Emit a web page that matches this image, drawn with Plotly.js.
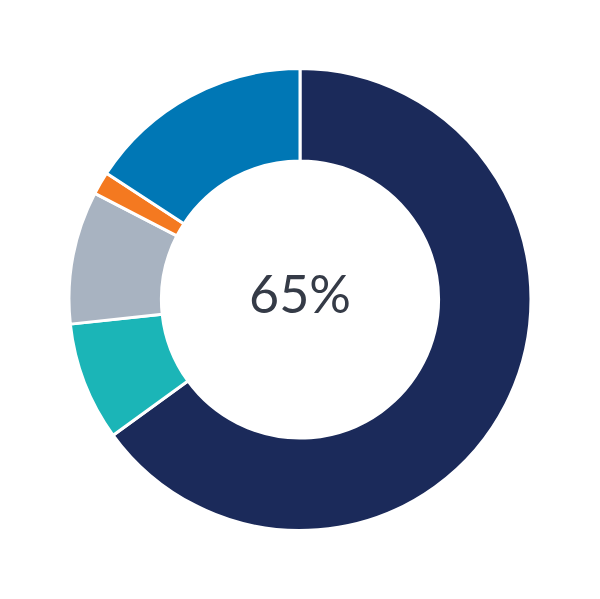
<!DOCTYPE html>
<html>
<head>
<meta charset="utf-8">
<script src="https://cdn.plot.ly/plotly-3.0.1.min.js"></script>
<style>html,body{margin:0;padding:0;background:#fff;}#chart{width:600px;height:599px;}</style>
</head>
<body>
<div id="chart"></div>
<script>
var categories = ["Navy", "Teal", "Gray", "Orange", "Blue"];
var values = [65, 8.3, 9.3, 1.6, 15.8];
var colors = ["#1b2a5a", "#1bb5b7", "#a8b3c1", "#f47920", "#0077b5"];
var centerLabel = "65%";

Plotly.newPlot("chart", [{
  type: "pie",
  labels: categories,
  values: values,
  hole: 0.6,
  sort: false,
  direction: "clockwise",
  rotation: 0,
  textinfo: "none",
  hoverinfo: "none",
  marker: {colors: colors, line: {color: "#ffffff", width: 3}},
  domain: {x: [0.115, 0.885], y: [0.1144, 0.8856]},
  showlegend: false
}], {
  width: 600, height: 599,
  margin: {l: 0, r: 0, t: 0, b: 0},
  paper_bgcolor: "#ffffff",
  showlegend: false,
  annotations: [{
    text: centerLabel, x: 0.5, y: 0.511, xref: "paper", yref: "paper",
    showarrow: false, font: {family: "Lato, sans-serif", size: 52, color: "#353b47"}
  }]
}, {staticPlot: true});
</script>
</body>
</html>
